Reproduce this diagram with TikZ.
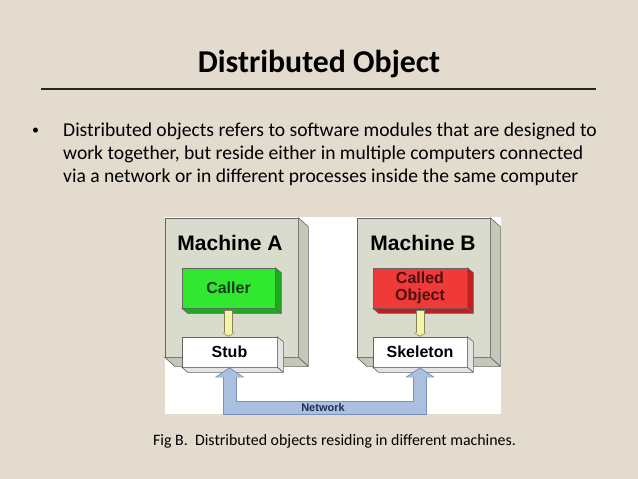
\documentclass[tikz,border=0pt]{standalone}
\usepackage{fontspec}
\setmainfont{Carlito}
\newfontfamily\arialf{Liberation Sans}
\usetikzlibrary{arrows.meta}
\definecolor{bgc}{RGB}{226,219,206}
\definecolor{machfill}{RGB}{217,220,205}
\definecolor{machside}{RGB}{196,200,182}
\definecolor{edgec}{RGB}{100,100,100}
\definecolor{greenf}{RGB}{48,232,48}
\definecolor{greens}{RGB}{30,170,30}
\definecolor{redf}{RGB}{240,58,58}
\definecolor{reds}{RGB}{190,32,32}
\definecolor{whites}{RGB}{228,228,228}
\definecolor{bandf}{RGB}{170,192,222}
\definecolor{bandb}{RGB}{120,145,185}
\definecolor{yelf}{RGB}{245,245,165}
\definecolor{yelb}{RGB}{130,130,100}
\definecolor{netc}{RGB}{30,42,85}
\newcommand\extrude[4]{%
  \filldraw[face, fill=#4] (#1.north east) -- ++(#2,#3) -- ([shift={(#2,#3)}]#1.south east) -- (#1.south east) -- cycle;
  \filldraw[face, fill=#4] (#1.south west) -- (#1.south east) -- ([shift={(#2,#3)}]#1.south east) -- ([shift={(#2,#3)}]#1.south west) -- cycle;
}
\begin{document}
\begin{tikzpicture}[x=1pt,y=-1pt,
  face/.style={draw=edgec, line width=0.6pt, line join=round},
  machine/.style={draw=edgec, line width=0.6pt, fill=machfill, inner sep=0pt, minimum width=133pt, minimum height=139pt},
  inbox/.style={draw=edgec, line width=0.6pt, inner sep=0pt, font=\arialf\bfseries\fontsize{16}{17}\selectfont, align=center},
  mlabel/.style={font=\arialf\bfseries\fontsize{21}{24}\selectfont, text=black, inner sep=0pt},
  slidetext/.style={font=\fontsize{19.6}{24}\selectfont, anchor=base west, inner sep=0pt}
]
\fill[bgc] (0,0) rectangle (638,479);
\useasboundingbox (0,0) rectangle (638,479);

% title
\node[font=\bfseries\fontsize{31.8}{37}\selectfont, anchor=base, inner sep=0pt] (title) at (319,72) {Distributed Object};
\coordinate (rl) at (41,89);
\coordinate (rr) at (596,89);
\draw[line width=1.6pt, black!85] (rl) -- (rr);

% bullet text
\node[slidetext, font=\fontsize{14}{17}\selectfont] (bul) at (32,134) {•};
\node[slidetext] (l1) at (63,136) {Distributed objects refers to software modules that are designed to};
\node[slidetext] (l2) at (63,159) {work together, but reside either in multiple computers connected};
\node[slidetext] (l3) at (63,182) {via a network or in different processes inside the same computer};

% diagram background
\fill[white] (165,217) rectangle (501,414);

% machines
\node[machine] (ma) at (231.5,287.5) {};
\extrude{ma}{10}{9}{machside}
\node[machine] (mb) at (423.5,287.5) {};
\extrude{mb}{10}{9}{machside}
\node[mlabel] (la) at (230,243) {Machine A};
\node[mlabel] (lb) at (423,243) {Machine B};

% inner boxes
\node[inbox, fill=greenf, minimum width=93pt, minimum height=40pt, text={rgb,255:red,25;green,60;blue,25}] (caller) at (228.5,288) {Caller};
\extrude{caller}{6}{5}{greens}
\node[inbox, fill=redf, minimum width=94pt, minimum height=40pt, text={rgb,255:red,80;green,15;blue,15}] (called) at (420,288) {Called\\Object};
\extrude{called}{6}{5}{reds}
\node[inbox, fill=white, minimum width=95pt, minimum height=30pt] (stub) at (229.5,352) {Stub};
\extrude{stub}{6}{5}{whites}
\node[inbox, fill=white, minimum width=94pt, minimum height=30pt] (skel) at (420,352) {Skeleton};
\extrude{skel}{6}{5}{whites}

% yellow arrows
\foreach \s/\t in {caller/stub, called/skel}{
  \draw[yelb, line width=9pt, -{Triangle[length=4pt,width=12pt]}] ([yshift=-2pt]\s.south) -- (\s.south |- \t.north);
  \draw[yelf, line width=7pt, -{Triangle[length=3pt,width=10pt]}] ([yshift=-3pt]\s.south) -- ([yshift=1pt]\s.south |- \t.north);
}

% network band
\coordinate (net) at (323,408);
\draw[bandb, line width=14pt, {Triangle[length=10pt,width=29pt]}-{Triangle[length=10pt,width=29pt]}] (stub.south) |- (net) -| (skel.south);
\draw[bandf, line width=12pt, {Triangle[length=8.5pt,width=25pt]}-{Triangle[length=8.5pt,width=25pt]}] ([yshift=-1.2pt]stub.south) |- (net) -| ([yshift=-1.2pt]skel.south);
\node[font=\arialf\bfseries\fontsize{11}{12}\selectfont, text=netc, inner sep=0pt] (netlabel) at (net) {Network};

% caption
\node[font=\fontsize{15.9}{18}\selectfont, anchor=base west, inner sep=0pt] (cap) at (153,445) {Fig B.\ \ Distributed objects residing in different machines.};
\end{tikzpicture}
\end{document}
